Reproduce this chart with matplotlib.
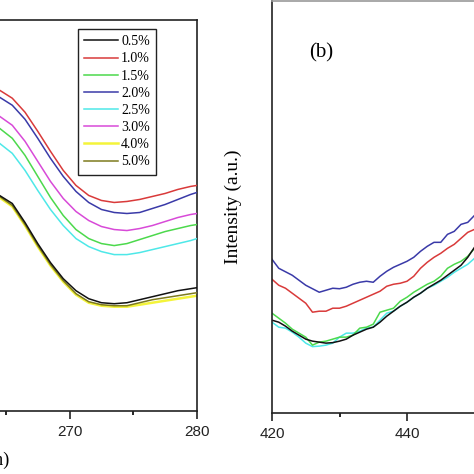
import matplotlib
matplotlib.use("Agg")
import matplotlib.pyplot as plt
from matplotlib.ticker import FixedLocator

# ---------------- data: panel (a) ----------------
wl_a = [264.0, 264.5, 265.5, 266.5, 267.5, 268.5, 269.5, 270.5, 271.5, 272.5,
        273.5, 274.5, 275.5, 276.5, 277.5, 278.5, 279.5, 280.0]
a_05 = [2.16, 2.15, 2.07, 1.88, 1.67, 1.48, 1.32, 1.20, 1.12, 1.08, 1.07, 1.08, 1.11, 1.14, 1.17, 1.20, 1.22, 1.23]
a_10 = [3.24, 3.20, 3.12, 2.98, 2.79, 2.59, 2.40, 2.25, 2.15, 2.10, 2.08, 2.09, 2.11, 2.14, 2.17, 2.21, 2.24, 2.25]
a_15 = [2.88, 2.82, 2.72, 2.55, 2.34, 2.13, 1.95, 1.81, 1.72, 1.67, 1.65, 1.67, 1.71, 1.75, 1.79, 1.82, 1.85, 1.86]
a_20 = [3.18, 3.13, 3.05, 2.91, 2.72, 2.52, 2.34, 2.19, 2.08, 2.01, 1.98, 1.97, 1.98, 2.02, 2.06, 2.11, 2.16, 2.18]
a_25 = [2.73, 2.67, 2.57, 2.40, 2.20, 2.01, 1.85, 1.72, 1.64, 1.59, 1.56, 1.56, 1.58, 1.61, 1.64, 1.67, 1.70, 1.72]
a_30 = [3.00, 2.94, 2.85, 2.69, 2.49, 2.29, 2.12, 1.99, 1.90, 1.84, 1.81, 1.80, 1.82, 1.85, 1.89, 1.93, 1.96, 1.97]
a_40 = [2.14, 2.13, 2.04, 1.85, 1.64, 1.45, 1.29, 1.16, 1.08, 1.05, 1.04, 1.04, 1.06, 1.08, 1.10, 1.12, 1.14, 1.15]
a_50 = [2.15, 2.14, 2.05, 1.86, 1.65, 1.46, 1.30, 1.17, 1.09, 1.06, 1.05, 1.05, 1.08, 1.11, 1.13, 1.15, 1.17, 1.18]

# ---------------- data: panel (b) ----------------
wl_b = list(range(420, 451))
b_05 = [0.93, 0.91, 0.87, 0.82, 0.78, 0.74, 0.72, 0.71, 0.70, 0.705, 0.72, 0.74, 0.78, 0.81, 0.84, 0.86,
        0.91, 0.97, 1.02, 1.07, 1.11, 1.16, 1.20, 1.25, 1.29, 1.33, 1.38, 1.43, 1.48, 1.56, 1.66]
b_10 = [1.34, 1.28, 1.25, 1.20, 1.15, 1.10, 1.01, 1.02, 1.02, 1.05, 1.05, 1.07, 1.10, 1.13, 1.16, 1.19,
        1.22, 1.27, 1.29, 1.30, 1.32, 1.37, 1.45, 1.51, 1.56, 1.60, 1.65, 1.69, 1.75, 1.81, 1.84]
b_15 = [1.00, 0.95, 0.90, 0.84, 0.80, 0.76, 0.68, 0.71, 0.72, 0.74, 0.76, 0.76, 0.78, 0.85, 0.86, 0.89,
        1.01, 1.03, 1.05, 1.12, 1.16, 1.21, 1.25, 1.29, 1.32, 1.37, 1.45, 1.49, 1.52, 1.57, 1.65]
b_20 = [1.54, 1.45, 1.415, 1.38, 1.33, 1.28, 1.245, 1.21, 1.23, 1.25, 1.245, 1.26, 1.29, 1.31, 1.32, 1.31,
        1.37, 1.42, 1.46, 1.49, 1.52, 1.56, 1.62, 1.67, 1.71, 1.71, 1.79, 1.82, 1.89, 1.91, 1.98]
b_25 = [0.91, 0.86, 0.85, 0.81, 0.76, 0.70, 0.665, 0.67, 0.68, 0.70, 0.76, 0.80, 0.80, 0.82, 0.85, 0.86,
        0.93, 1.00, 1.02, 1.07, 1.11, 1.16, 1.20, 1.25, 1.28, 1.32, 1.36, 1.41, 1.45, 1.49, 1.55]

labels = ["0.5%", "1.0%", "1.5%", "2.0%", "2.5%", "3.0%", "4.0%", "5.0%"]
colors = ["#111111", "#d93a3a", "#4cd94c", "#3a3aa8", "#4ee8e8", "#d84ad8", "#f4f43a", "#7d7a1e"]

ticks_a_major = [270, 280]
ticks_a_minor = [265, 275]
ticks_b_major = [420, 440]
ticks_b_minor = [430]

SERIF = ["Liberation Serif", "DejaVu Serif"]
SANS = ["Liberation Sans", "DejaVu Sans"]

W = H = 474
fig = plt.figure(figsize=(4.74, 4.74), dpi=100)

def px_rect(x0, y_top, x1, y_bot):
    return [x0 / W, 1 - y_bot / H, (x1 - x0) / W, (y_bot - y_top) / H]

# panel (a)
ax1 = fig.add_axes(px_rect(69 - 15 * 12.7, 20, 197, 411))
series_a = [a_05, a_10, a_15, a_20, a_25, a_30, a_40, a_50]
order = [6, 7, 0, 1, 2, 3, 4, 5]
for i in order:
    lw = 1.8 if labels[i] == "4.0%" else 1.1
    ax1.plot(wl_a, series_a[i], color=colors[i], lw=lw, label=labels[i], zorder=2 + (i != 6),
             solid_joinstyle="round")
ax1.set_xlim(255, 280)
ax1.set_ylim(0, 3.9)

# panel (b)
ax2 = fig.add_axes(px_rect(272, 0.8, 272 + 60 * 6.75, 413))
for ys, c in zip([b_25, b_15, b_05, b_10, b_20], [colors[4], colors[2], colors[0], colors[1], colors[3]]):
    ax2.plot(wl_b, ys, color=c, lw=1.1)
ax2.set_xlim(420, 480)
ax2.set_ylim(0, 4.13)

for ax, mj, mn in ((ax1, ticks_a_major, ticks_a_minor), (ax2, ticks_b_major, ticks_b_minor)):
    for s in ax.spines.values():
        s.set_linewidth(1.2)
        s.set_color("#222222")
    ax.set_yticks([])
    ax.xaxis.set_major_locator(FixedLocator(mj))
    ax.xaxis.set_minor_locator(FixedLocator(mn))
    ax.tick_params(axis="x", which="major", direction="out", length=6, width=1.2, pad=4,
                   labelsize=11, colors="#222222")
    ax.tick_params(axis="x", which="minor", direction="out", length=3, width=1.2)
    for t in ax.get_xticklabels():
        t.set_family(SANS)
ax2.spines["top"].set_color("#999999")

handles, labs = ax1.get_legend_handles_labels()
hmap = dict(zip(labs, handles))
leg = ax1.legend([hmap[l] for l in labels], labels, loc="upper left",
                 bbox_to_anchor=(78 / W, 1 - 29 / H), bbox_transform=fig.transFigure,
                 borderaxespad=0, frameon=True, fancybox=False, framealpha=1, edgecolor="#222222",
                 prop={"family": SERIF, "size": 10}, handlelength=2.4, handletextpad=0.25,
                 labelspacing=0.30, borderpad=0.45)
leg.get_frame().set_linewidth(1.0)

ax2.text(321 / W, 1 - 53 / H, "(b)", transform=fig.transFigure, ha="center", va="center",
         family=SERIF, fontsize=15)
fig.text(233 / W, 1 - 207 / H, "Intensity (a.u.)", rotation=90, ha="center", va="center",
         family=SERIF, fontsize=14)
fig.text(9 / W, 1 - 460 / H, "Wavelength (nm)", ha="right", va="center", family=SERIF, fontsize=13)

fig.savefig("out.png", dpi=100)
